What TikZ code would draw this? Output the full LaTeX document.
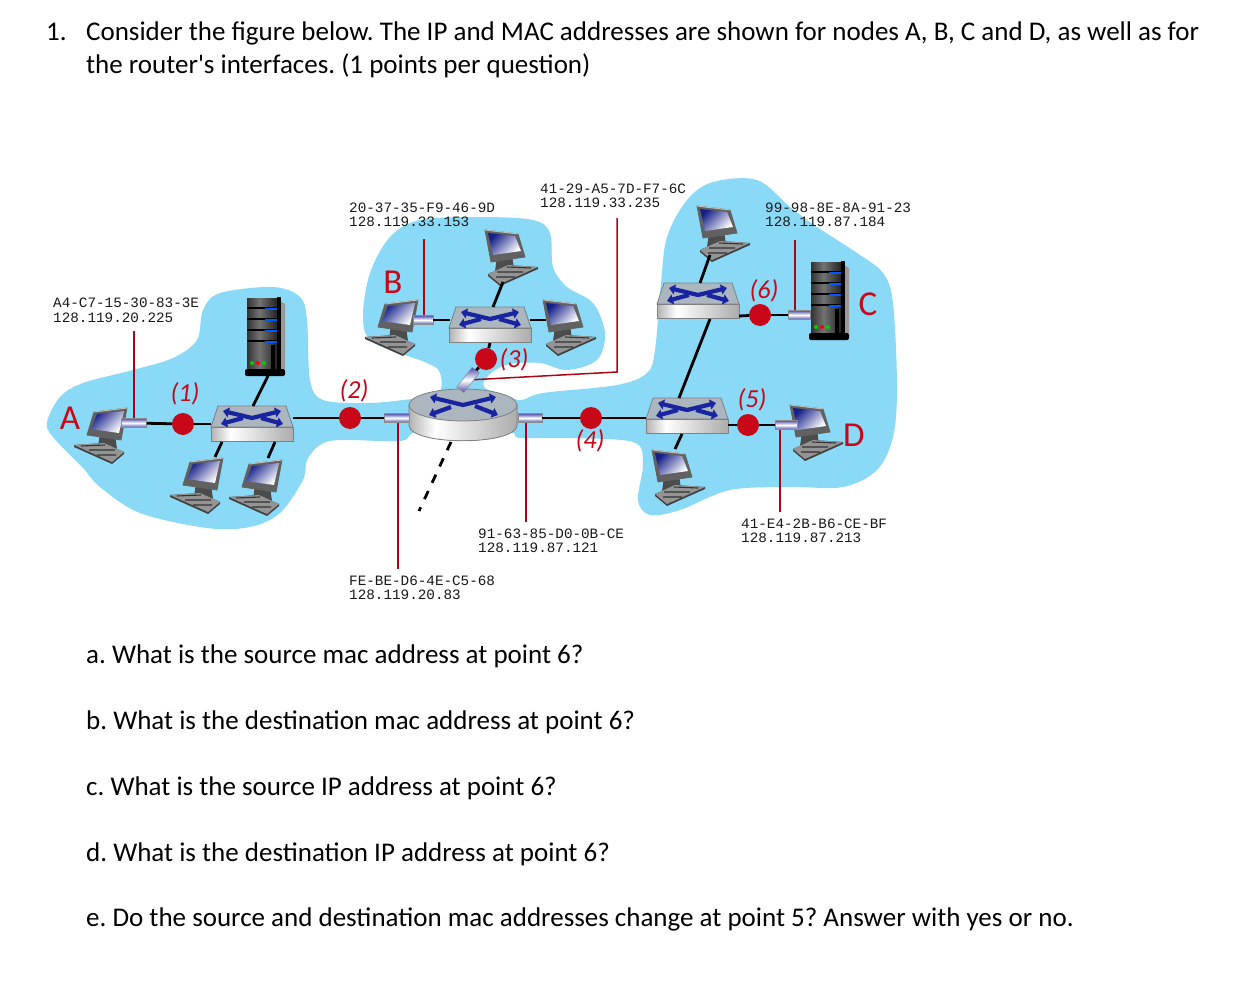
\documentclass[tikz,border=0pt]{standalone}
\usepackage{fontspec}
\setmainfont{Carlito}
\newfontfamily\addrfont{Liberation Mono}
\usetikzlibrary{arrows.meta}
\definecolor{lanblue}{RGB}{137,217,247}
\definecolor{netred}{RGB}{200,8,24}
\definecolor{xblue}{RGB}{24,36,160}
\definecolor{stubblue}{RGB}{76,76,176}
\definecolor{lidgray}{RGB}{172,182,190}
\pgfdeclarehorizontalshading{boxfront}{100bp}{color(0bp)=(gray!60); color(25bp)=(gray!60); color(37bp)=(white); color(75bp)=(gray!65); color(100bp)=(gray!65)}
\pgfdeclarehorizontalshading{towerfront}{100bp}{color(0bp)=(black!80); color(25bp)=(black!80); color(45bp)=(black!55); color(75bp)=(black!88); color(100bp)=(black!88)}
\tikzset{
    x=1pt, y=-1pt,
    body/.style={font=\fontsize{27}{31}\selectfont, anchor=base west, inner sep=0pt},
    addr/.style={font=\addrfont\fontsize{14.3}{15}\selectfont, text=black!90, anchor=base west, inner sep=0pt},
    hostname/.style={font=\fontsize{35}{38}\selectfont, text=netred, inner sep=0pt},
    ptname/.style={font=\itshape\fontsize{26}{28}\selectfont, text=netred, inner sep=0pt},
    dotpt/.style={circle, fill=netred, minimum size=22pt, inner sep=0pt},
    stub/.style={rectangle, draw=black!45, line width=0.5pt, top color=stubblue, bottom color=stubblue, middle color=white, minimum width=#1, minimum height=9pt, inner sep=0pt},
    link/.style={line width=2.8pt, black},
    lead/.style={line width=1.5pt, netred!85!black},
    xarrow/.style={line width=4.2pt, xblue, -{Triangle[length=6pt,width=10pt]}},
    pics/pcbox/.style={code={
        \fill[black!70] (-7,8) -- (8,10) -- (10,24) -- (-9,22) -- cycle;
        \fill[black!75] (-33,22) -- (5,39) -- (17,29) -- (17,27) -- (-3,18) -- (-33,20) -- cycle;
        \fill[black!42] (-33,20) -- (-3,18) -- (17,27) -- (5,37) -- cycle;
        \draw[black!80, line width=1.1pt] (-26,21) -- (-2,20) (-18,25) -- (8,25) (-10,30) -- (9,30);
        \filldraw[fill=black!62, draw=black!62, line width=0.8pt] (-13,-13) -- (20,-17) -- (14,15) -- (-20,10) -- cycle;
        \draw[black!25, line width=1pt] (-13,-13) -- (20,-17);
        \shade[left color=xblue!85!black, right color=white, shading angle=45] (-10,-11) -- (17,-14) -- (12,8) -- (-16,4) -- cycle;
    }},
    pics/towerbox/.style={code={
        \fill[black!40] (15,-36) -- (20,-33) -- (20,32) -- (15,35) -- cycle;
        \shade[shading=towerfront] (-18,-39) -- (13,-39) -- (13,34) -- (-18,34) -- cycle;
        \fill[black] (12,-40) rectangle (16,36);
        \fill[black, rounded corners=2pt] (-20,32) rectangle (20,39);
        \draw[black, line width=2.8pt] (-18,-29) -- (12,-29) (-18,-18) -- (12,-18) (-18,-7) -- (12,-7) (-18,4) -- (12,4);
        \draw[blue!65!cyan, line width=2.8pt] (0,-28) -- (12,-28) (0,-17) -- (12,-17) (0,-6) -- (12,-6) (0,5) -- (12,5);
        \fill[black] (6,8) rectangle (10,32);
        \fill[green!80!black] (-13,26) circle (2pt) (-1,26) circle (2pt);
        \fill[red] (-7,26) circle (2pt);
    }},
    pics/switchbox/.style={code={
        \filldraw[fill=lidgray, draw=black!50, line width=0.8pt] (-34,-17) -- (34,-17) -- (41,4) -- (-41,4) -- cycle;
        \filldraw[shading=boxfront, draw=black!50, line width=0.8pt] (-41,4) rectangle (41,18);
        \draw[xarrow, {Triangle[length=6pt,width=10pt]}-{Triangle[length=6pt,width=10pt]}] (-29,-12) -- (0,-5) -- (29,-12);
        \draw[xarrow] (-9,-5) -- (-31,1);
        \draw[xarrow] (9,-5) -- (31,1);
    }},
    pics/routerbox/.style={code={
        \filldraw[shading=boxfront, draw=black!50, line width=0.8pt] (-54,0) -- (-54,20) .. controls (-54,41) and (54,41) .. (54,20) -- (54,0) -- cycle;
        \filldraw[fill=lidgray, draw=black!50, line width=0.8pt] (0,0) ellipse [x radius=54pt, y radius=16pt];
        \draw[xarrow, {Triangle[length=6pt,width=10pt]}-{Triangle[length=6pt,width=10pt]}] (-33,-8) -- (0,0) -- (33,-8);
        \draw[xarrow] (-12,2) -- (-34,10);
        \draw[xarrow] (12,1) -- (35,10);
    }},
}
\begin{document}
\frenchspacing
\begin{tikzpicture}
    \useasboundingbox (0,0) rectangle (1254,982);
    \fill[white] (0,0) rectangle (1254,982);

    % Question
    \node[body] (numone) at (46,41) {1.};
    \node[body] (introa) at (86,41) {Consider the figure below. The IP and MAC addresses are shown for nodes A, B, C and D, as well as for};
    \node[body] (introb) at (86,74) {the router\textquotesingle s interfaces. (1 points per question)};

    % Blue region
    \fill[lanblue] plot[smooth cycle, tension=0.55] coordinates {
        (47,422) (60,397) (83,383) (133,370) (173,358) (197,340) (203,310) (220,293) (273,287) (300,297)
        (307,320) (310,380) (323,400) (367,403) (403,400) (438,394) (440,373) (427,363) (373,342) (363,317)
        (370,273) (390,237) (420,220) (480,217) (533,220) (550,233) (553,267) (567,287) (593,303)
        (605,333) (597,360) (567,370) (540,363) (510,364) (491,373) (484,387) (510,397) (522,400) (543,393) (617,385) (647,373)
        (655,350) (661,283) (667,237) (687,200) (713,182) (757,180) (790,207) (817,227) (857,253) (883,273)
        (893,303) (897,387) (893,437) (877,470) (843,487) (790,487) (730,490) (680,510) (650,515) (638,500)
        (643,463) (633,442) (567,438) (520,438) (513,433) (490,430) (440,430) (413,433) (400,441) (340,440) (320,445)
        (307,460) (303,480) (280,513) (250,527) (207,528) (140,513) (100,487) (83,468) (53,437)};

    % Left LAN
    \coordinate (pcA) at (107,425);
    \coordinate (pcAa) at (203,475);
    \coordinate (pcAb) at (262,477);
    \coordinate (srvA) at (265,337);
    \coordinate (swA) at (252,423);
    \pic at (pcA) {pcbox};
    \pic at (pcAa) {pcbox};
    \pic at (pcAb) {pcbox};
    \pic at (srvA) {towerbox};
    \pic at (swA) {switchbox};

    % Upper LAN
    \coordinate (pcB) at (398,317);
    \coordinate (pcBa) at (505,247);
    \coordinate (pcBb) at (563,317);
    \coordinate (swB) at (490,324);
    \pic at (pcB) {pcbox};
    \pic[xscale=-1] at (pcBa) {pcbox};
    \pic[xscale=-1] at (pcBb) {pcbox};
    \pic at (swB) {switchbox};

    % Right LAN
    \coordinate (pcCa) at (717,223);
    \coordinate (srvC) at (829,301);
    \coordinate (swC) at (698,300);
    \coordinate (swD) at (687,415);
    \coordinate (pcD) at (810,422);
    \coordinate (pcDa) at (672,467);
    \pic[xscale=-1] at (pcCa) {pcbox};
    \pic at (srvC) {towerbox};
    \pic at (swC) {switchbox};
    \pic at (swD) {switchbox};
    \pic[xscale=-1] at (pcD) {pcbox};
    \pic[xscale=-1] at (pcDa) {pcbox};

    % Router
    \coordinate (rtr) at (463,405);
    \pic at (rtr) {routerbox};

    % Interfaces
    \node[stub=25pt] (stubA) at (134,423) {};
    \node[stub=20pt] (stubB) at (423,320) {};
    \node[stub=25pt] (stubL) at (397,418) {};
    \node[stub=24pt] (stubR) at (530,418) {};
    \node[stub=25pt, rotate=52] (stubT) at (468,380) {};
    \node[stub=22pt] (stubC) at (799,315) {};
    \node[stub=22pt] (stubD) at (786,425) {};

    % Points
    \node[dotpt] (ptone) at (183,424) {};
    \node[dotpt] (pttwo) at (350,418) {};
    \node[dotpt] (ptthree) at (486,359) {};
    \node[dotpt] (ptfour) at (591,418) {};
    \node[dotpt] (ptfive) at (748,425) {};
    \node[dotpt] (ptsix) at (760,315) {};
    \node[ptname] (nameone) at (185,394) {(1)};
    \node[ptname] (nametwo) at (354,391) {(2)};
    \node[ptname] (namethree) at (514,360) {(3)};
    \node[ptname] (namefour) at (590,441) {(4)};
    \node[ptname] (namefive) at (752,400) {(5)};
    \node[ptname] (namesix) at (764,291) {(6)};

    % Links
    \draw[link] (stubA) -- (ptone);
    \draw[link] (ptone) -- ([shift={(-41,1)}]swA);
    \draw[link] ([shift={(41,-5)}]swA) -- (pttwo);
    \draw[link] (pttwo) -- (stubL);
    \draw[link] ([shift={(1,-17)}]swA) -- ([shift={(3,39)}]srvA);
    \draw[link] ([shift={(-30,19)}]swA) -- ([shift={(12,-18)}]pcAa);
    \draw[link] ([shift={(23,19)}]swA) -- ([shift={(6,-19)}]pcAb);
    \draw[link] (stubB) -- ([shift={(-40,-4)}]swB);
    \draw[link] ([shift={(40,-4)}]swB) -- ([shift={(-17,3)}]pcBb);
    \draw[link] ([shift={(3,-17)}]swB) -- ([shift={(-2,35)}]pcBa);
    \draw[link] ([shift={(0,19)}]swB) -- (ptthree);
    \draw[link] (ptthree) -- (stubT);
    \draw[link] (stubR) -- (ptfour);
    \draw[link] (ptfour) -- ([shift={(-41,3)}]swD);
    \draw[link] ([shift={(2,-17)}]swC) -- ([shift={(-7,32)}]pcCa);
    \draw[link] ([shift={(12,19)}]swC) -- ([shift={(-8,-17)}]swD);
    \draw[link] ([shift={(41,16)}]swC) -- (ptsix);
    \draw[link] (ptsix) -- (stubC);
    \draw[link] ([shift={(41,10)}]swD) -- (ptfive);
    \draw[link] (ptfive) -- (stubD);
    \draw[link] ([shift={(-5,19)}]swD) -- ([shift={(3,-18)}]pcDa);
    \draw[link, dash pattern=on 9pt off 9pt] ([shift={(-12,37)}]rtr) -- ([shift={(-44,106)}]rtr);

    % Addresses
    \node[addr] (addrA) at (53,307) {A4-C7-15-30-83-3E};
    \node[addr] (ipA) at (53,322) {128.119.20.225};
    \node[addr] (addrB) at (349,212) {20-37-35-F9-46-9D};
    \node[addr] (ipB) at (349,226) {128.119.33.153};
    \node[addr] (addrT) at (540,193) {41-29-A5-7D-F7-6C};
    \node[addr] (ipT) at (540,207) {128.119.33.235};
    \node[addr] (addrC) at (765,212) {99-98-8E-8A-91-23};
    \node[addr] (ipC) at (765,226) {128.119.87.184};
    \node[addr] (addrD) at (741,528) {41-E4-2B-B6-CE-BF};
    \node[addr] (ipD) at (741,542) {128.119.87.213};
    \node[addr] (addrR) at (478,538) {91-63-85-D0-0B-CE};
    \node[addr] (ipR) at (478,552) {128.119.87.121};
    \node[addr] (addrL) at (349,585) {FE-BE-D6-4E-C5-68};
    \node[addr] (ipL) at (349,599) {128.119.20.83};

    % Leaders
    \coordinate (leadA) at (134,331);
    \coordinate (leadB) at (424,239);
    \coordinate (leadT) at (617,218);
    \coordinate (leadTb) at (617,372);
    \coordinate (leadC) at (795,240);
    \coordinate (leadD) at (780,512);
    \coordinate (leadL) at (398,569);
    \coordinate (leadR) at (526,522);
    \draw[lead] (leadA) -- (leadA |- stubA.north);
    \draw[lead] (leadB) -- (leadB |- stubB.north);
    \draw[lead] (leadT) -- (leadTb) -- (stubT);
    \draw[lead] (leadC) -- (leadC |- stubC.north);
    \draw[lead] (leadD) -- (leadD |- stubD.south);
    \draw[lead] (leadL) -- (leadL |- stubL.south);
    \draw[lead] (leadR) -- (leadR |- stubR.south);

    % Host names
    \node[hostname] (nameA) at (70,418) {A};
    \node[hostname] (nameB) at (393,282) {B};
    \node[hostname] (nameC) at (868,304) {C};
    \node[hostname] (nameD) at (854,435) {D};

    % Sub-questions
    \node[body] (qa) at (86,663) {a. What is the source mac address at point 6?};
    \node[body] (qb) at (86,729) {b. What is the destination mac address at point 6?};
    \node[body] (qc) at (86,795) {c. What is the source IP address at point 6?};
    \node[body] (qd) at (86,861) {d. What is the destination IP address at point 6?};
    \node[body] (qe) at (86,926) {e. Do the source and destination mac addresses change at point 5? Answer with yes or no.};
\end{tikzpicture}
\end{document}
